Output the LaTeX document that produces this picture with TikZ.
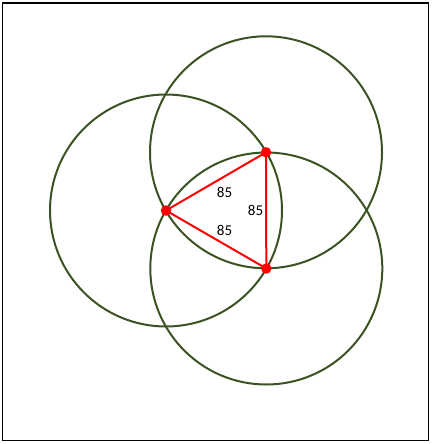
\documentclass[tikz,border=0pt]{standalone}
\usepackage{fontspec}
\setmainfont{Carlito}
\definecolor{circgreen}{HTML}{3B5323}
\begin{document}
\begin{tikzpicture}[x=1pt,y=-1pt,
  circ/.style={draw=circgreen,line width=2pt},
  side/.style={draw=red,line width=2pt},
  dot/.style={circle,fill=red,inner sep=0pt,minimum size=10.5pt},
  lbl/.style={font=\fontsize{15}{18}\selectfont,inner sep=0pt}]
\useasboundingbox (0,0) rectangle (432,444);
\draw[line width=1.2pt] (2.5,3) rectangle (428.5,440.5);
\coordinate (A) at (166,210.5);
\coordinate (B) at (266,152.3);
\coordinate (C) at (266.3,268.5);
\draw[circ] (A) circle (116);
\draw[circ] (B) circle (116);
\draw[circ] (C) circle (116);
\draw[side] (A) -- (B) -- (C) -- cycle;
\node[dot] (a) at (A) {};
\node[dot] (b) at (B) {};
\node[dot] (c) at (C) {};
\node[lbl] (l1) at (224.5,192.5) {85};
\node[lbl] (l2) at (255.5,210.8) {85};
\node[lbl] (l3) at (224.5,230.8) {85};
\end{tikzpicture}
\end{document}
